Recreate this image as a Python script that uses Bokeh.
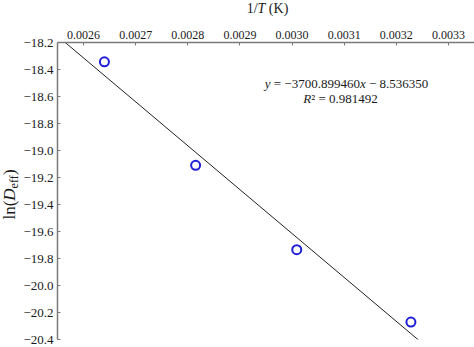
import numpy as np
from bokeh.plotting import figure
from bokeh.layouts import row, column
from bokeh.models import Label, FixedTicker, CustomJSTickFormatter, Range1d
from bokeh.embed import file_html
from bokeh.resources import INLINE

# ---- data ----
inv_T = [0.002640, 0.002815, 0.003009, 0.003228]      # 1/T (1/K)
ln_D = [-18.343, -19.110, -19.735, -20.271]          # ln(D_eff)
x_ticks = [0.0026, 0.0027, 0.0028, 0.0029, 0.0030, 0.0031, 0.0032, 0.0033]
y_ticks = [-18.2, -18.4, -18.6, -18.8, -19.0, -19.2, -19.4, -19.6, -19.8, -20.0, -20.2, -20.4]
eq_slope = "\u22123700.899460"
eq_intercept = "8.536350"
eq_r2 = "0.981492"

X_RANGE = (0.00255, 0.00335)
Y_RANGE = (-20.4, -18.2)

W, H = 474, 347
LS = 20          # width of the strip holding the y label
TS = 17          # height of the strip holding the x title
FL, FT, FR, FB = 57, 42, 474, 339   # frame edges in page pixels
FONT = "Liberation Serif"
TXT = "#1a1a1a"
AX = "#7a7a7a"


def strip(w, h):
    f = figure(width=w, height=h, x_range=Range1d(0, w), y_range=Range1d(0, h),
               x_axis_location=None, y_axis_location=None, title=None,
               output_backend="svg", toolbar_location=None,
               min_border_left=0, min_border_right=0, min_border_top=0, min_border_bottom=0)
    f.outline_line_color = None
    f.grid.visible = False
    f.background_fill_color = "white"
    f.border_fill_color = "white"
    return f


ylab_fig = strip(LS, H)
title_fig = strip(W - LS, TS)

p = figure(width=W - LS, height=H - TS, x_range=Range1d(*X_RANGE), y_range=Range1d(*Y_RANGE),
           x_axis_location="above", output_backend="svg", toolbar_location=None,
           min_border_left=FL - LS, min_border_top=FT - TS, min_border_right=W - FR,
           min_border_bottom=H - FB)
p.outline_line_color = None
p.xgrid.visible = False
p.ygrid.visible = False
p.background_fill_color = "white"
p.border_fill_color = "white"

for ax in (p.xaxis[0], p.yaxis[0]):
    ax.axis_line_color = AX
    ax.axis_line_width = 1.5
    ax.major_tick_line_color = AX
    ax.major_tick_in = 3
    ax.major_tick_out = 0
    ax.minor_tick_line_color = None
    ax.major_label_text_font = FONT
    ax.major_label_text_color = TXT

p.xaxis[0].ticker = FixedTicker(ticks=x_ticks)
p.xaxis[0].formatter = CustomJSTickFormatter(code="return tick.toFixed(4)")
p.xaxis[0].major_label_text_font_size = "12px"
p.xaxis[0].major_label_standoff = 4

p.yaxis[0].ticker = FixedTicker(ticks=y_ticks)
p.yaxis[0].formatter = CustomJSTickFormatter(
    code="return (tick < 0 ? '\\u2212' : '') + Math.abs(tick).toFixed(1)")
p.yaxis[0].major_label_text_font_size = "13px"
p.yaxis[0].major_label_standoff = 4

# fitted line from the points
coef = np.polyfit(inv_T, ln_D, 1)
xs = np.array(X_RANGE)
p.line(xs, np.polyval(coef, xs), line_color="#222222", line_width=1)

p.scatter(inv_T, ln_D, marker="circle", size=9, fill_color=None,
          line_color="#1f1fd8", line_width=2)

# ---- composed text labels ----
REG = {'0': 500, '1': 500, '2': 500, '3': 500, '4': 500, '5': 500, '6': 500,
       '7': 500, '8': 500, '9': 500, '.': 250, ' ': 250, '=': 564, '\u2212': 564,
       '(': 333, ')': 333, '/': 278, 'l': 278, 'n': 500, 'K': 722, 'e': 444,
       'f': 333, '\u00b2': 300}
ITA = {'T': 556, 'D': 722, 'x': 444, 'y': 444, 'R': 611}


def tw(t, italic, size):
    tab = ITA if italic else REG
    return sum(tab.get(c, 500) for c in t) * size / 1000.0


def run(fig, to_local, segs, cx, cy, rotated=False):
    """segs: (text, italic, size, dy); cx, cy: centre along run / text middle, page px."""
    widths = [tw(t, it, sz) for t, it, sz, _ in segs]
    off = -sum(widths) / 2.0
    for (t, it, sz, dy), w in zip(segs, widths):
        lead = tw(t[:len(t) - len(t.lstrip(' '))], it, sz)
        o = off + lead
        if rotated:
            sx, sy = cx + dy, cy - o
            ang = np.pi / 2
        else:
            sx, sy = cx + o, cy + dy
            ang = 0
        lx, ly = to_local(sx, sy)
        fig.add_layout(Label(x=lx, y=ly, x_units="screen", y_units="screen",
                             text=t.strip(' '), text_font=FONT,
                             text_font_style="italic" if it else "normal",
                             text_font_size=f"{sz}px", text_color=TXT,
                             text_align="left", text_baseline="middle",
                             angle=ang, angle_units="rad"))
        off += w


# x-axis title (top strip; its frame is aligned with the main frame's left edge)
run(title_fig, lambda sx, sy: (sx - FL, TS - sy),
    [("1/", False, 14, 0), ("T", True, 14, 0), (" (K)", False, 14, 0)], 267, 8)
# y-axis title (left strip)
run(ylab_fig, lambda sx, sy: (sx, H - sy),
    [("ln(", False, 17, 0), ("D", True, 17, 0), ("eff", False, 12, 4), (")", False, 17, 0)],
    9, 194, rotated=True)
# fit equation (inside the plot frame; screen units relative to frame bottom-left)
run(p, lambda sx, sy: (sx - FL, FB - sy),
    [("y", True, 13, 0), (" = " + eq_slope, False, 13, 0), ("x", True, 13, 0),
     (" \u2212 " + eq_intercept, False, 13, 0)], 346, 83)
run(p, lambda sx, sy: (sx - FL, FB - sy),
    [("R", True, 13, 0), ("\u00b2 = " + eq_r2, False, 13, 0)], 340, 98)

layout = row(ylab_fig, column(title_fig, p, spacing=0), spacing=0)
open("out.html", "w").write(file_html(layout, INLINE))
